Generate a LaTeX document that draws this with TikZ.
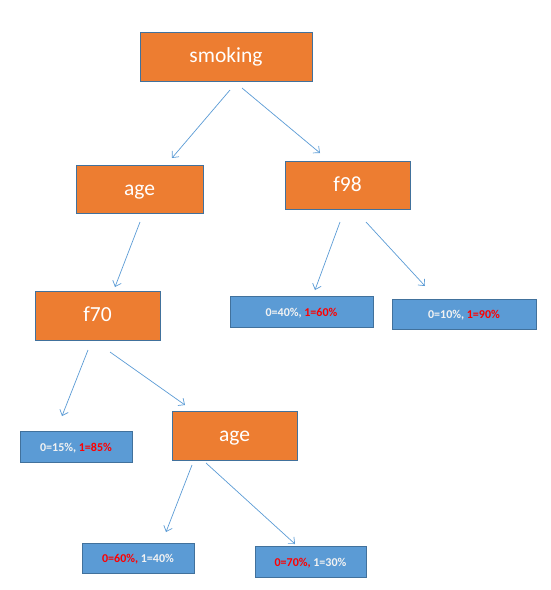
\documentclass[tikz,border=0pt]{standalone}
\usepackage{fontspec}
\setmainfont{Carlito}
\usetikzlibrary{arrows.meta}
\definecolor{orfill}{HTML}{ED7D31}
\definecolor{bord}{HTML}{41719C}
\definecolor{leaffill}{HTML}{5B9BD5}
\definecolor{arr}{HTML}{5B9BD5}
\definecolor{redt}{HTML}{FF0000}
\definecolor{whitet}{HTML}{F2F2F2}
\begin{document}
\begin{tikzpicture}[x=1pt,y=-1pt,
  inner/.style={draw=bord,line width=0.9pt,fill=orfill,text=white,inner sep=0pt,
    font=\fontsize{21.5}{24}\selectfont,text height=16pt,text depth=3.5pt},
  leaf/.style={draw=bord,line width=0.9pt,fill=leaffill,text=whitet,inner sep=0pt,
    font=\bfseries\fontsize{12}{14}\selectfont,text height=10.5pt,text depth=1.5pt},
  conn/.style={draw=arr,line width=0.7pt,-{Straight Barb[length=5pt,width=9pt]}}]
\useasboundingbox (0,0) rectangle (551,590);
\node[inner,minimum width=172pt,minimum height=49pt] (smoking) at (226,56.5) {smoking};
\node[inner,minimum width=127pt,minimum height=48pt] (age) at (139.5,189) {age};
\node[inner,minimum width=125pt,minimum height=48pt] (f98) at (347.5,185) {f98};
\node[inner,minimum width=125pt,minimum height=49pt] (f70) at (97.5,315.5) {f70};
\node[inner,minimum width=125pt,minimum height=49pt] (age2) at (234.5,435.5) {age};
\node[leaf,minimum width=143pt,minimum height=31pt] (l1) at (301.5,311.5) {0=40\%, \textcolor{redt}{1=60\%}};
\node[leaf,minimum width=144pt,minimum height=30pt] (l2) at (464,314) {0=10\%, \textcolor{redt}{1=90\%}};
\node[leaf,minimum width=112pt,minimum height=31pt] (l3) at (76,446.5) {0=15\%, \textcolor{redt}{1=85\%}};
\node[leaf,minimum width=112pt,minimum height=30pt] (l4) at (138,558) {\textcolor{redt}{0=60\%,} 1=40\%};
\node[leaf,minimum width=111pt,minimum height=31pt] (l5) at (310.5,561.5) {\textcolor{redt}{0=70\%,} 1=30\%};
% connector end points (connectors stop short of the boxes)
\coordinate (s1) at (230,90);  \coordinate (e1) at (172,158);
\coordinate (s2) at (242,88);  \coordinate (e2) at (320,153);
\coordinate (s3) at (140,222); \coordinate (e3) at (115,287);
\coordinate (s4) at (340,222); \coordinate (e4) at (315,290);
\coordinate (s5) at (366,222); \coordinate (e5) at (425,286);
\coordinate (s6) at (88,350);  \coordinate (e6) at (62,416);
\coordinate (s7) at (110,352); \coordinate (e7) at (185,405);
\coordinate (s8) at (192,465); \coordinate (e8) at (166,532);
\coordinate (s9) at (206,463); \coordinate (e9) at (295,544);
\draw[conn] (s1) -- (e1);
\draw[conn] (s2) -- (e2);
\draw[conn] (s3) -- (e3);
\draw[conn] (s4) -- (e4);
\draw[conn] (s5) -- (e5);
\draw[conn] (s6) -- (e6);
\draw[conn] (s7) -- (e7);
\draw[conn] (s8) -- (e8);
\draw[conn] (s9) -- (e9);
\end{tikzpicture}
\end{document}
